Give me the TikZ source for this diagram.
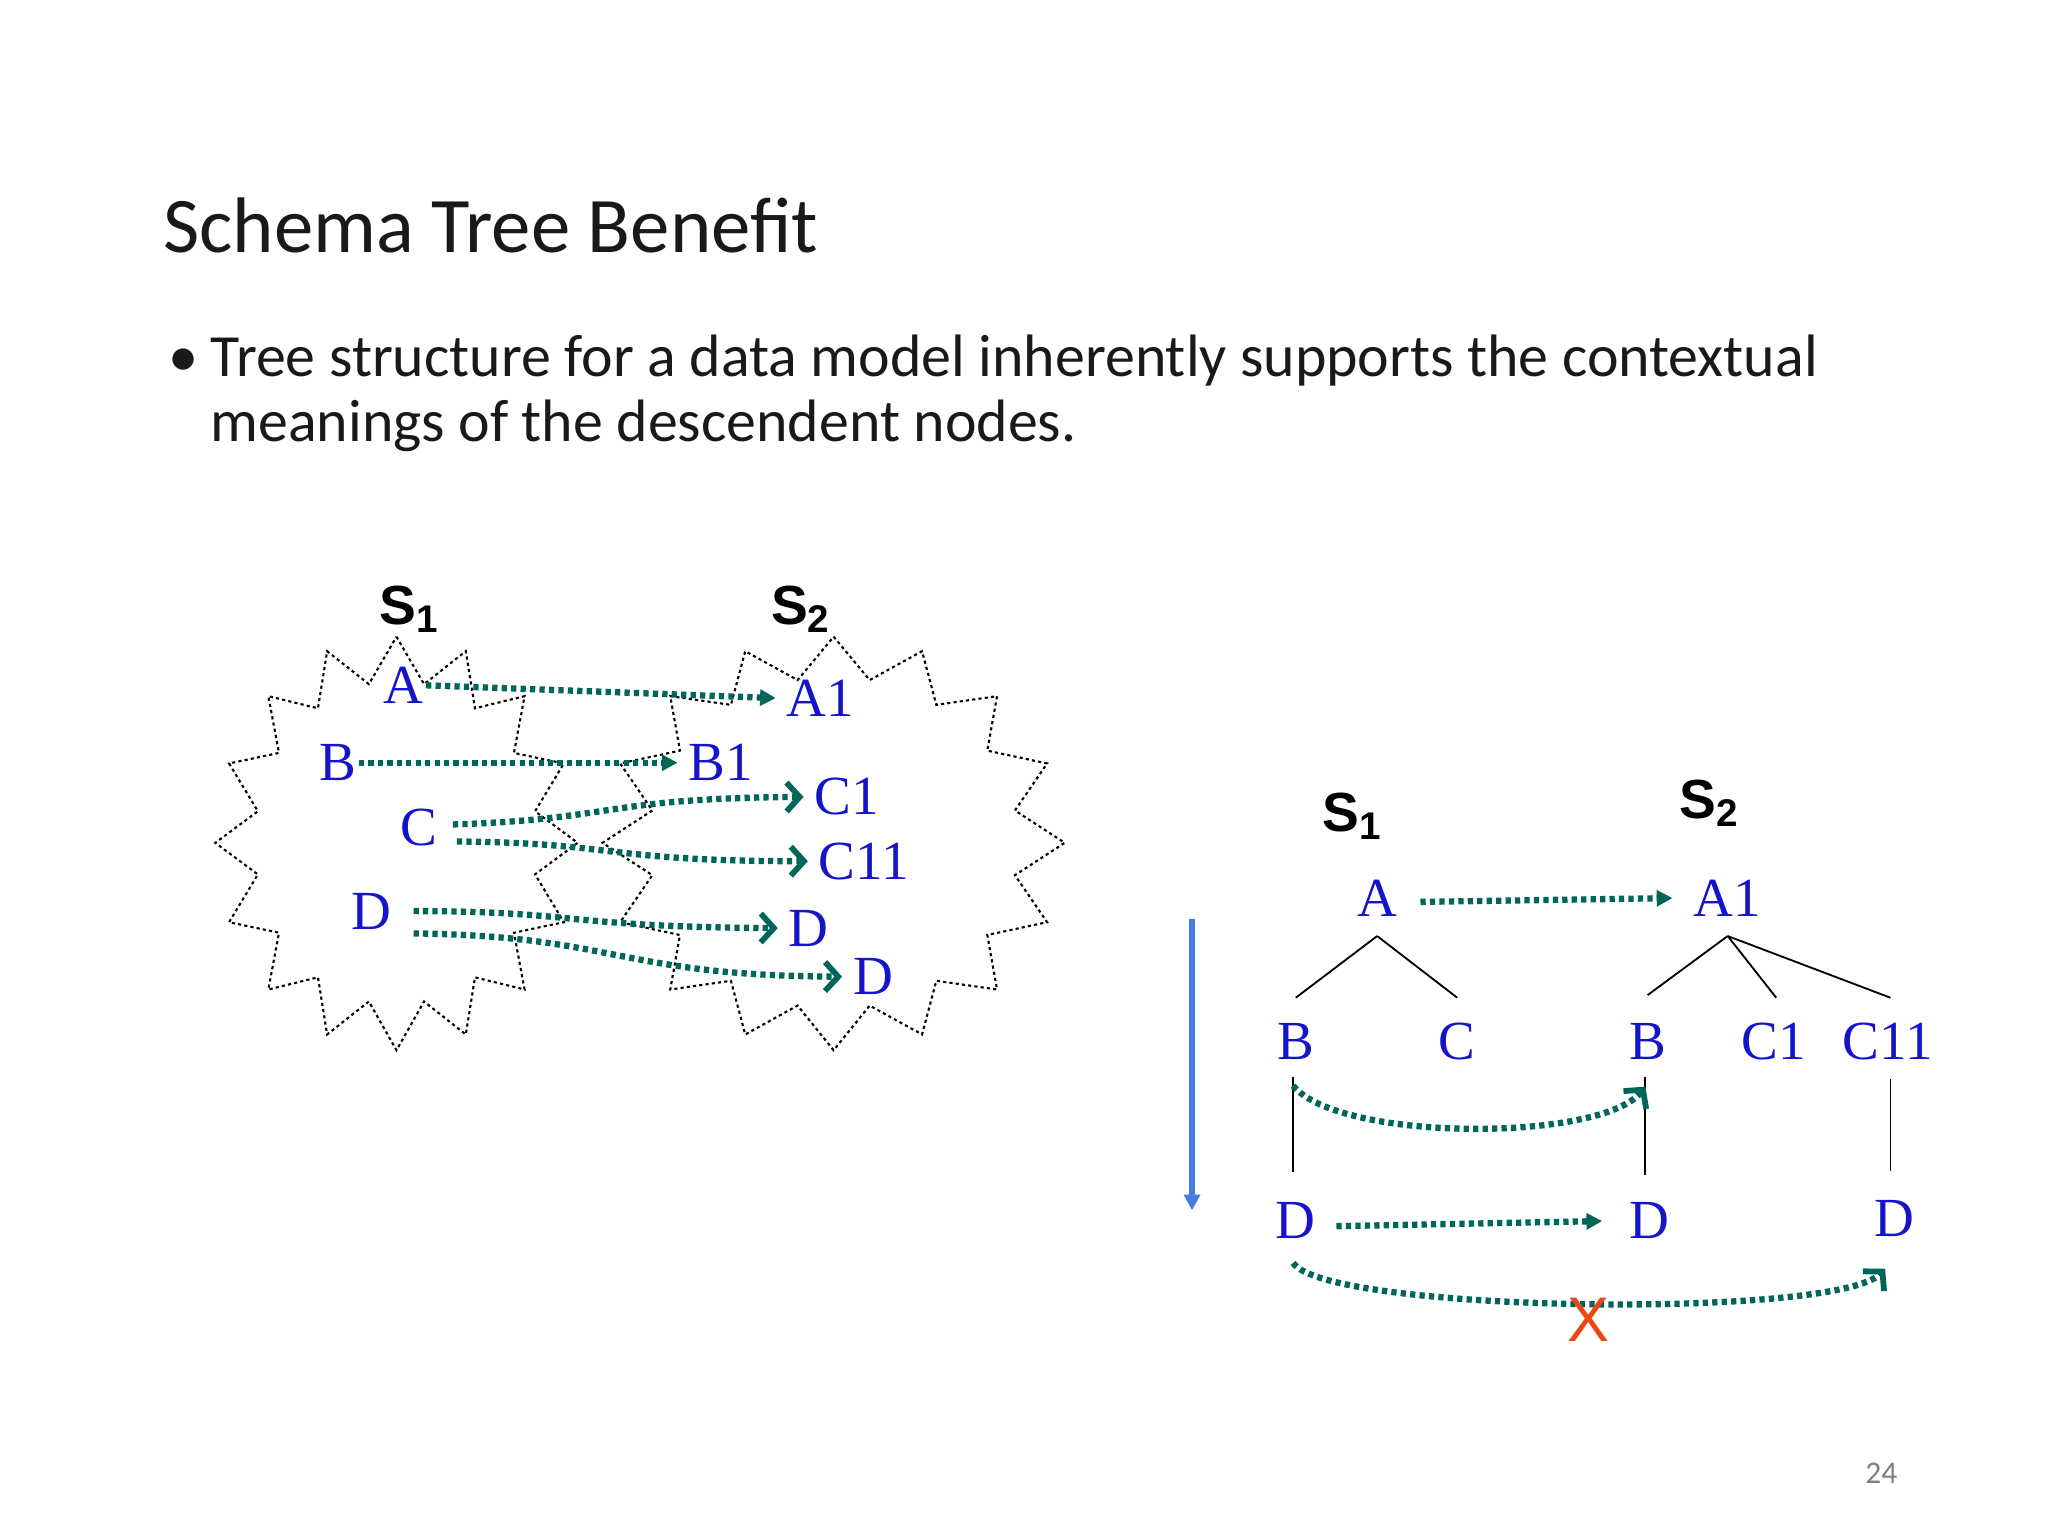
\documentclass[tikz,border=0pt]{standalone}
\usepackage{fontspec}
\setmainfont{Liberation Serif}
\newfontfamily\ttl{Carlito}
\newfontfamily\hv{Liberation Sans}
\usetikzlibrary{arrows.meta}
\definecolor{teal1}{RGB}{0,102,90}
\definecolor{blu}{RGB}{20,20,200}
\definecolor{barrow}{RGB}{70,125,220}
\definecolor{txt}{RGB}{25,25,25}
\tikzset{
 lt/.style={text=blu,font=\fontsize{21}{21}\selectfont,inner sep=1pt},
 sl/.style={font=\hv\bfseries\fontsize{21}{21}\selectfont,inner sep=0pt},
 dd/.style={draw=teal1,line width=2.4pt,dash pattern=on 2pt off 1.6pt},
 tri/.style={dd,shorten >=3pt,-{Triangle[length=6pt,width=6pt]}},
 bar/.style={dd,shorten >=3pt,-{Straight Barb[length=5pt,width=11pt,line width=2.2pt,sep=0pt]}},
 edge/.style={draw=black,line width=0.7pt},
 star/.style={draw=black,line width=0.8pt,dash pattern=on 1.2pt off 1.2pt}
}
\begin{document}
\begin{tikzpicture}[x=0.5pt,y=-0.5pt]
\useasboundingbox (0,0) rectangle (1560,1170);
\node[anchor=base west,inner sep=0pt,text=txt,font=\ttl\fontsize{30}{30}\selectfont] (title) at (124,192) {Schema Tree Benefit};
\node[anchor=base west,inner sep=0pt,text=txt,font=\ttl\fontsize{23}{23}\selectfont] (bul) at (128,287) {\textbullet};
\node[anchor=base west,inner sep=0pt,text=txt,font=\ttl\fontsize{22.8}{23}\selectfont] (body) at (160,287) {Tree structure for a data model inherently supports the contextual};
\node[anchor=base west,inner sep=0pt,text=txt,font=\ttl\fontsize{22.8}{23}\selectfont] (body2) at (160,336) {meanings of the descendent nodes.};
% stars
\draw[star] (302,485) \foreach \i in {1,...,31}{ -- ({302+(mod(\i,2)==1?0.78:1)*138*sin(\i*11.25)},{642-(mod(\i,2)==1?0.78:1)*158*cos(\i*11.25)})} -- cycle;
\draw[star] (635,485) \foreach \i in {1,...,31}{ -- ({635+(mod(\i,2)==1?0.8:1)*176*sin(\i*11.25)},{642-(mod(\i,2)==1?0.8:1)*158*cos(\i*11.25)})} -- cycle;
\node[sl] (s1) at (312,464) {S\textsubscript{1}};
\node[sl] (s2) at (610,464) {S\textsubscript{2}};
\node[lt] (a) at (307,522) {A};
\node[lt] (b) at (257,581) {B};
\node[lt] (c) at (319,630) {C};
\node[lt] (d) at (283,694) {D};
\node[lt] (a1) at (625,532) {A1};
\node[lt] (b1) at (549,581) {B1};
\node[lt] (c1) at (645,607) {C1};
\node[lt] (c11) at (658,656) {C11};
\node[lt] (dx) at (616,707) {D};
\node[lt] (dy) at (665,744) {D};
\coordinate (c0) at (345,628); \coordinate (c0b) at (348,641);
\coordinate (d0) at (315,694); \coordinate (d0b) at (315,711);
\draw[tri] (a.east) -- (a1.west);
\draw[tri] (b.east) -- (b1.west);
\draw[bar] (c0) .. controls (470,624) and (460,608) .. (c1.west);
\draw[bar] (c0b) .. controls (470,642) and (460,656) .. (c11.west);
\draw[bar] (d0) .. controls (440,694) and (430,706) .. (dx.west);
\draw[bar] (d0b) .. controls (470,713) and (470,743) .. (dy.west);
% right tree
\node[sl] (t1) at (1030,622) {S\textsubscript{1}};
\node[sl] (t2) at (1302,612) {S\textsubscript{2}};
\node[lt] (ra) at (1049,684) {A};
\node[lt] (ra1) at (1316,684) {A1};
\node[lt] (rb) at (987,793) {B};
\node[lt] (rc) at (1110,793) {C};
\node[lt] (rb2) at (1255,793) {B};
\node[lt] (rc1) at (1351,793) {C1};
\node[lt] (rc11) at (1438,793) {C11};
\node[lt] (rd) at (987,930) {D};
\node[lt] (rd2) at (1256,930) {D};
\node[lt] (rd3) at (1443,928) {D};
\coordinate (pa) at (1049,713); \coordinate (pa1) at (1316,713);
\draw[edge] (pa) -- (987,760) (pa) -- (1110,760);
\draw[edge] (pa1) -- (1255,758) (pa1) -- (1353,760) (pa1) -- (1440,760);
\draw[edge] (985,820) -- (985,893) (1253,820) -- (1253,895) (1440,822) -- (1440,892);
\draw[tri] (1082,687) -- ([xshift=-4pt]ra1.west);
\draw[tri] (1018,934) -- ([xshift=-6pt]rd2.west);
\draw[bar] (985,827) .. controls (1020,870) and (1220,870) .. (1257,823);
\draw[bar] (985,962) .. controls (1010,1000) and (1400,1005) .. (1440,962);
\node[text={rgb,255:red,235;green,70;blue,20},font=\hv\fontsize{24}{24}\selectfont,inner sep=0pt] (x) at (1210,1005) {X};
\coordinate (ba) at (908,700); \coordinate (bb) at (908,922);
\draw[barrow,line width=2pt,-{Triangle[length=6pt,width=6pt]}] (ba) -- (bb);
\node[text=gray,font=\ttl\fontsize{12}{12}\selectfont] (pg) at (1433,1122) {24};
\end{tikzpicture}
\end{document}
